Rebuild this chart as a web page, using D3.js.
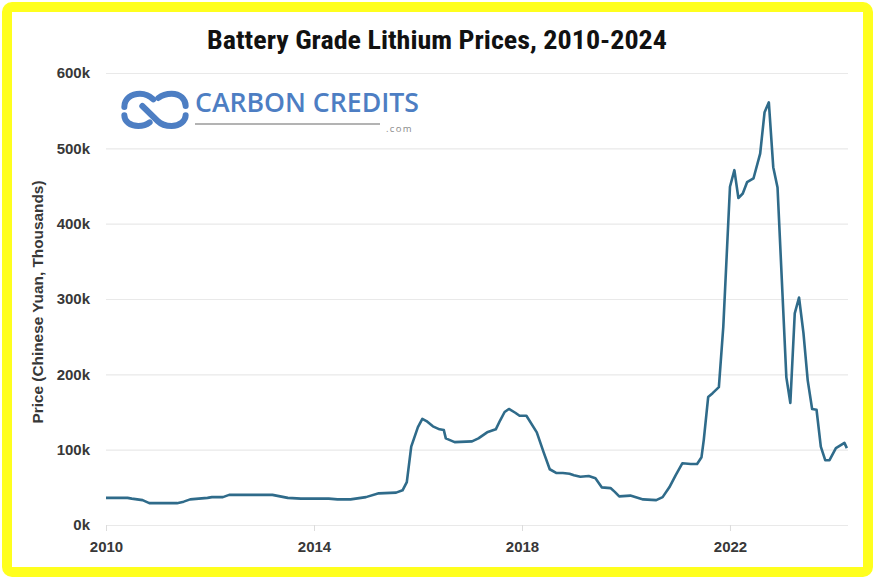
<!DOCTYPE html>
<html>
<head>
<meta charset="utf-8">
<script src="https://cdn.jsdelivr.net/npm/d3@7"></script>
<style>
  html, body { margin: 0; padding: 0; background: #fff; }
  svg { display: block; font-family: "Liberation Sans", Arial, sans-serif; }
</style>
</head>
<body>
<svg id="chart" width="875" height="580"></svg>
<script>
// --- data ---
const dates = [
  '2010-01-01','2010-06-01','2010-07-01','2010-09-15','2010-11-01','2011-05-15','2011-07-01','2011-08-15',
  '2011-12-15','2012-01-15','2012-04-01','2012-05-15','2013-03-15','2013-07-01','2013-10-01','2014-04-15',
  '2014-06-15','2014-09-15','2015-01-01','2015-04-01','2015-08-01','2015-09-15','2015-10-15','2015-11-15',
  '2016-01-01','2016-02-01','2016-03-01','2016-04-15','2016-06-01','2016-07-01','2016-07-15','2016-09-15',
  '2017-01-15','2017-03-01','2017-05-01','2017-07-01','2017-08-01','2017-09-01','2017-10-01','2017-11-15',
  '2017-12-15','2018-02-01','2018-04-15','2018-06-01','2018-07-15','2018-09-01','2018-10-15','2018-12-01',
  '2019-01-01','2019-02-15','2019-04-15','2019-06-01','2019-07-15','2019-09-15','2019-10-15','2019-11-15',
  '2020-02-01','2020-05-01','2020-08-01','2020-09-15','2020-11-01','2020-12-15','2021-02-01','2021-04-01',
  '2021-05-15','2021-06-15','2021-07-01','2021-08-01','2021-09-01','2021-10-15','2021-11-15','2022-01-01',
  '2022-02-01','2022-03-01','2022-04-01','2022-05-01','2022-06-15','2022-08-01','2022-09-01','2022-10-01',
  '2022-11-01','2022-12-01','2023-02-01','2023-03-01','2023-04-01','2023-05-01','2023-06-01','2023-07-01',
  '2023-08-01','2023-09-01','2023-10-01','2023-11-01','2023-12-01','2024-01-15','2024-03-15','2024-04-01'
];
// yuan per tonne
const prices = [
  36000, 36000, 35000, 33000, 29000, 29000, 31000, 34000,
  36000, 37000, 37000, 40000, 40000, 36000, 35000, 35000,
  34000, 34000, 37000, 42000, 43000, 46000, 57000, 104000,
  130000, 141000, 138000, 131000, 127000, 126000, 115000, 110000,
  111000, 115000, 123000, 127000, 139000, 150000, 154000, 149000,
  145000, 145000, 123000, 97000, 74000, 69000, 69000, 68000,
  66000, 64000, 65000, 62000, 50000, 49000, 44000, 38000,
  39000, 34000, 33000, 37000, 50000, 66000, 82000, 81000,
  81000, 90000, 113000, 170000, 175000, 183000, 263000, 449000,
  471000, 434000, 440000, 455000, 460000, 493000, 548000, 561000,
  475000, 448000, 196000, 162000, 281000, 302000, 255000, 192000,
  154000, 153000, 104000, 86000, 86000, 102000, 109000, 102000
];
const yTicks = [0, 100000, 200000, 300000, 400000, 500000, 600000];
const xTickYears = [2010, 2014, 2018, 2022];

const title = 'Battery Grade Lithium Prices, 2010-2024';
const yTitle = 'Price (Chinese Yuan, Thousands)';

const parse = d3.timeParse('%Y-%m-%d');
const series = dates.map((d, i) => ({ date: parse(d), value: prices[i] }));

const svg = d3.select('#chart');
const plot = { left: 106, right: 848, top: 73, bottom: 525 };

// yellow frame
svg.append('rect')
  .attr('x', 7).attr('y', 7).attr('width', 861).attr('height', 565)
  .attr('rx', 5)
  .attr('fill', '#fff')
  .attr('stroke', '#ffff1e')
  .attr('stroke-width', 10);

svg.append('text')
  .attr('x', 437).attr('y', 49)
  .attr('text-anchor', 'middle')
  .attr('font-family', '"Liberation Sans Narrow", "Roboto Condensed", Roboto, sans-serif')
  .attr('font-weight', 700)
  .attr('font-size', 25)
  .attr('fill', '#111')
  .attr('textLength', 460)
  .attr('lengthAdjust', 'spacingAndGlyphs')
  .text(title);

const x = d3.scaleTime()
  .domain([parse('2010-01-01'), parse('2024-04-09')])
  .range([plot.left, plot.right]);
const y = d3.scaleLinear()
  .domain([0, 600000])
  .range([plot.bottom, plot.top]);

// y grid + labels
const yAxis = svg.append('g')
  .attr('transform', `translate(${plot.left},0)`)
  .call(d3.axisLeft(y)
    .tickValues(yTicks)
    .tickSize(-(plot.right - plot.left))
    .tickPadding(16)
    .tickFormat(d => `${d / 1000}k`));
yAxis.select('.domain').remove();
yAxis.selectAll('.tick line').attr('stroke', '#e9e9e9').attr('stroke-width', 1.2);
yAxis.selectAll('.tick text')
  .attr('font-size', 15).attr('font-weight', 700).attr('fill', '#383838');

// x ticks + labels
const xAxis = svg.append('g')
  .attr('transform', `translate(0,${plot.bottom})`)
  .call(d3.axisBottom(x)
    .tickValues(xTickYears.map(yr => new Date(yr, 0, 1)))
    .tickSize(6)
    .tickPadding(10)
    .tickFormat(d3.timeFormat('%Y')));
xAxis.select('.domain').remove();
xAxis.selectAll('.tick line').attr('stroke', '#dcdcdc');
xAxis.selectAll('.tick text')
  .attr('font-size', 15).attr('font-weight', 700).attr('fill', '#383838');

svg.append('text')
  .attr('transform', 'translate(43,302) rotate(-90)')
  .attr('text-anchor', 'middle')
  .attr('font-size', 15)
  .attr('font-weight', 700)
  .attr('fill', '#383838')
  .attr('textLength', 243)
  .attr('lengthAdjust', 'spacingAndGlyphs')
  .text(yTitle);

// logo
const logo = svg.append('g').attr('transform', 'translate(115,82) scale(0.3333)');
const logoBlue = '#4d7ec3';
[
  'M28,75 C28,50 50,35 75,35 C95,35 105,42 115,52',
  'M82,72 L128,117 C138,127 150,132 170,132 C195,132 212,116 212,100',
  'M130,48 C140,40 152,35 170,35 C195,35 212,52 212,72',
  'M28,100 C28,118 45,132 70,132 C85,132 95,128 104,121'
].forEach(p => logo.append('path')
  .attr('d', p)
  .attr('fill', 'none')
  .attr('stroke', logoBlue)
  .attr('stroke-width', 18)
  .attr('stroke-linecap', 'round'));

svg.append('text')
  .attr('x', 195).attr('y', 112)
  .attr('font-family', '"Open Sans", "Noto Sans", sans-serif')
  .attr('font-weight', 600)
  .attr('font-size', 27)
  .attr('fill', logoBlue)
  .attr('textLength', 224)
  .attr('lengthAdjust', 'spacingAndGlyphs')
  .text('CARBON CREDITS');
svg.append('line')
  .attr('x1', 195).attr('x2', 380).attr('y1', 124).attr('y2', 124)
  .attr('stroke', '#9a9a9a').attr('stroke-width', 1.5);
svg.append('text')
  .attr('x', 386).attr('y', 132)
  .attr('font-family', '"Open Sans", sans-serif')
  .attr('font-size', 9.5)
  .attr('letter-spacing', 1.3)
  .attr('fill', '#8a8a8a')
  .text('.com');

// price line
const line = d3.line()
  .x(d => x(d.date))
  .y(d => y(d.value));

svg.append('path')
  .datum(series)
  .attr('d', line)
  .attr('fill', 'none')
  .attr('stroke', '#2f6b8a')
  .attr('stroke-width', 2.6)
  .attr('stroke-linejoin', 'round');
</script>
</body>
</html>
